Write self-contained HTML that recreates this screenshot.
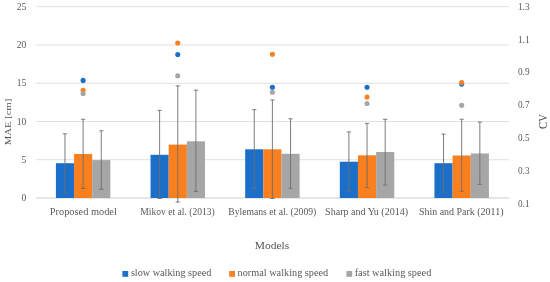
<!DOCTYPE html>
<html><head><meta charset="utf-8"><title>Chart</title>
<style>html,body{margin:0;padding:0;background:#fff}svg{display:block}</style></head>
<body>
<svg width="550" height="282" viewBox="0 0 550 282" font-family="'Liberation Serif', serif" font-size="10" fill="#595959">
<rect width="550" height="282" fill="#fff"/>
<line x1="35.8" x2="509.0" y1="6.70" y2="6.70" stroke="#e0e0e0" stroke-width="1"/>
<line x1="35.8" x2="509.0" y1="44.96" y2="44.96" stroke="#e0e0e0" stroke-width="1"/>
<line x1="35.8" x2="509.0" y1="83.22" y2="83.22" stroke="#e0e0e0" stroke-width="1"/>
<line x1="35.8" x2="509.0" y1="121.48" y2="121.48" stroke="#e0e0e0" stroke-width="1"/>
<line x1="35.8" x2="509.0" y1="159.74" y2="159.74" stroke="#e0e0e0" stroke-width="1"/>
<line x1="35.8" x2="509.0" y1="198.00" y2="198.00" stroke="#cdcdcd" stroke-width="1"/>
<rect x="55.90" y="163.20" width="18.15" height="34.80" fill="#1b6fc9"/>
<rect x="74.05" y="154.00" width="18.15" height="44.00" fill="#f97f1f"/>
<rect x="92.20" y="160.10" width="18.15" height="37.90" fill="#a6a6a6"/>
<rect x="150.53" y="154.80" width="18.15" height="43.20" fill="#1b6fc9"/>
<rect x="168.69" y="144.60" width="18.15" height="53.40" fill="#f97f1f"/>
<rect x="186.83" y="141.30" width="18.15" height="56.70" fill="#a6a6a6"/>
<rect x="245.17" y="149.30" width="18.15" height="48.70" fill="#1b6fc9"/>
<rect x="263.32" y="149.30" width="18.15" height="48.70" fill="#f97f1f"/>
<rect x="281.47" y="153.80" width="18.15" height="44.20" fill="#a6a6a6"/>
<rect x="339.81" y="161.70" width="18.15" height="36.30" fill="#1b6fc9"/>
<rect x="357.96" y="155.30" width="18.15" height="42.70" fill="#f97f1f"/>
<rect x="376.12" y="152.00" width="18.15" height="46.00" fill="#a6a6a6"/>
<rect x="434.45" y="163.20" width="18.15" height="34.80" fill="#1b6fc9"/>
<rect x="452.60" y="155.50" width="18.15" height="42.50" fill="#f97f1f"/>
<rect x="470.75" y="153.50" width="18.15" height="44.50" fill="#a6a6a6"/>
<path d="M64.97 133.80V192.60M62.87 133.80H67.07M62.87 192.60H67.07" stroke="#6e6e6e" stroke-width="0.9" fill="none"/>
<path d="M83.12 119.30V188.50M81.02 119.30H85.22M81.02 188.50H85.22" stroke="#6e6e6e" stroke-width="0.9" fill="none"/>
<path d="M101.27 130.80V189.30M99.17 130.80H103.37M99.17 189.30H103.37" stroke="#6e6e6e" stroke-width="0.9" fill="none"/>
<path d="M159.61 110.40V198.50M157.51 110.40H161.71M157.51 198.50H161.71" stroke="#6e6e6e" stroke-width="0.9" fill="none"/>
<path d="M177.76 85.90V202.10M175.66 85.90H179.86M175.66 202.10H179.86" stroke="#6e6e6e" stroke-width="0.9" fill="none"/>
<path d="M195.91 90.20V191.40M193.81 90.20H198.01M193.81 191.40H198.01" stroke="#6e6e6e" stroke-width="0.9" fill="none"/>
<path d="M254.25 109.70V188.50M252.15 109.70H256.35M252.15 188.50H256.35" stroke="#6e6e6e" stroke-width="0.9" fill="none"/>
<path d="M272.40 99.90V198.50M270.30 99.90H274.50M270.30 198.50H274.50" stroke="#6e6e6e" stroke-width="0.9" fill="none"/>
<path d="M290.55 118.80V188.30M288.45 118.80H292.65M288.45 188.30H292.65" stroke="#6e6e6e" stroke-width="0.9" fill="none"/>
<path d="M348.89 131.90V191.20M346.79 131.90H350.99M346.79 191.20H350.99" stroke="#6e6e6e" stroke-width="0.9" fill="none"/>
<path d="M367.04 123.40V187.50M364.94 123.40H369.14M364.94 187.50H369.14" stroke="#6e6e6e" stroke-width="0.9" fill="none"/>
<path d="M385.19 119.30V185.00M383.09 119.30H387.29M383.09 185.00H387.29" stroke="#6e6e6e" stroke-width="0.9" fill="none"/>
<path d="M443.53 134.10V192.20M441.43 134.10H445.63M441.43 192.20H445.63" stroke="#6e6e6e" stroke-width="0.9" fill="none"/>
<path d="M461.68 119.20V191.30M459.58 119.20H463.78M459.58 191.30H463.78" stroke="#6e6e6e" stroke-width="0.9" fill="none"/>
<path d="M479.83 122.10V184.40M477.73 122.10H481.93M477.73 184.40H481.93" stroke="#6e6e6e" stroke-width="0.9" fill="none"/>
<circle cx="83.12" cy="80.40" r="2.55" fill="#1b6fc9"/>
<circle cx="83.12" cy="90.40" r="2.55" fill="#f97f1f"/>
<circle cx="83.12" cy="93.50" r="2.55" fill="#a6a6a6"/>
<circle cx="177.76" cy="54.50" r="2.55" fill="#1b6fc9"/>
<circle cx="177.76" cy="43.00" r="2.55" fill="#f97f1f"/>
<circle cx="177.76" cy="75.70" r="2.55" fill="#a6a6a6"/>
<circle cx="272.40" cy="87.20" r="2.55" fill="#1b6fc9"/>
<circle cx="272.40" cy="54.20" r="2.55" fill="#f97f1f"/>
<circle cx="272.40" cy="92.30" r="2.55" fill="#a6a6a6"/>
<circle cx="367.04" cy="87.20" r="2.55" fill="#1b6fc9"/>
<circle cx="367.04" cy="97.10" r="2.55" fill="#f97f1f"/>
<circle cx="367.04" cy="103.50" r="2.55" fill="#a6a6a6"/>
<circle cx="461.68" cy="84.10" r="2.55" fill="#1b6fc9"/>
<circle cx="461.68" cy="82.60" r="2.55" fill="#f97f1f"/>
<circle cx="461.68" cy="105.30" r="2.55" fill="#a6a6a6"/>
<text x="16.7" y="9.75" font-size="9.4" textLength="9.6" lengthAdjust="spacingAndGlyphs">25</text>
<text x="16.7" y="48.01" font-size="9.4" textLength="9.6" lengthAdjust="spacingAndGlyphs">20</text>
<text x="16.7" y="86.27" font-size="9.4" textLength="9.6" lengthAdjust="spacingAndGlyphs">15</text>
<text x="16.7" y="124.53" font-size="9.4" textLength="9.6" lengthAdjust="spacingAndGlyphs">10</text>
<text x="21.5" y="162.79" font-size="9.4" textLength="4.8" lengthAdjust="spacingAndGlyphs">5</text>
<text x="21.5" y="201.05" font-size="9.4" textLength="4.8" lengthAdjust="spacingAndGlyphs">0</text>
<text x="518.0" y="9.80" font-size="9.4" textLength="11.5" lengthAdjust="spacingAndGlyphs">1.3</text>
<text x="518.0" y="42.60" font-size="9.4" textLength="11.5" lengthAdjust="spacingAndGlyphs">1.1</text>
<text x="518.0" y="75.40" font-size="9.4" textLength="11.5" lengthAdjust="spacingAndGlyphs">0.9</text>
<text x="518.0" y="108.20" font-size="9.4" textLength="11.5" lengthAdjust="spacingAndGlyphs">0.7</text>
<text x="518.0" y="141.00" font-size="9.4" textLength="11.5" lengthAdjust="spacingAndGlyphs">0.5</text>
<text x="518.0" y="173.80" font-size="9.4" textLength="11.5" lengthAdjust="spacingAndGlyphs">0.3</text>
<text x="518.0" y="206.60" font-size="9.4" textLength="11.5" lengthAdjust="spacingAndGlyphs">0.1</text>
<text x="49.8" y="214.9" textLength="67.0" lengthAdjust="spacingAndGlyphs" font-size="10.5">Proposed model</text>
<text x="140.2" y="214.9" textLength="74.6" lengthAdjust="spacingAndGlyphs" font-size="10.5">Mikov et al. (2013)</text>
<text x="228.2" y="214.9" textLength="88.1" lengthAdjust="spacingAndGlyphs" font-size="10.5">Bylemans et al. (2009)</text>
<text x="325.1" y="214.9" textLength="83.0" lengthAdjust="spacingAndGlyphs" font-size="10.5">Sharp and Yu (2014)</text>
<text x="418.9" y="214.9" textLength="84.6" lengthAdjust="spacingAndGlyphs" font-size="10.5">Shin and Park (2011)</text>
<text x="254.8" y="248.8" textLength="34.4" lengthAdjust="spacingAndGlyphs" font-size="11.3" fill="#525252">Models</text>
<text transform="translate(11,145.2) rotate(-90)" textLength="46.5" lengthAdjust="spacingAndGlyphs" font-size="9.0" fill="#525252">MAE [cm]</text>
<text transform="translate(547.1,128.9) rotate(-90)" textLength="14.8" lengthAdjust="spacingAndGlyphs" font-size="11.6" fill="#454545">CV</text>
<rect x="122.4" y="271.0" width="5.8" height="5.8" fill="#1b6fc9"/>
<text x="130.9" y="276.45" textLength="80.4" lengthAdjust="spacingAndGlyphs" font-size="10.5">slow walking speed</text>
<rect x="229.2" y="271.0" width="5.8" height="5.8" fill="#f97f1f"/>
<text x="237.6" y="276.45" textLength="90.6" lengthAdjust="spacingAndGlyphs" font-size="10.5">normal walking speed</text>
<rect x="346.4" y="271.0" width="5.8" height="5.8" fill="#a6a6a6"/>
<text x="354.7" y="276.45" textLength="76.6" lengthAdjust="spacingAndGlyphs" font-size="10.5">fast walking speed</text>
</svg>
</body></html>
